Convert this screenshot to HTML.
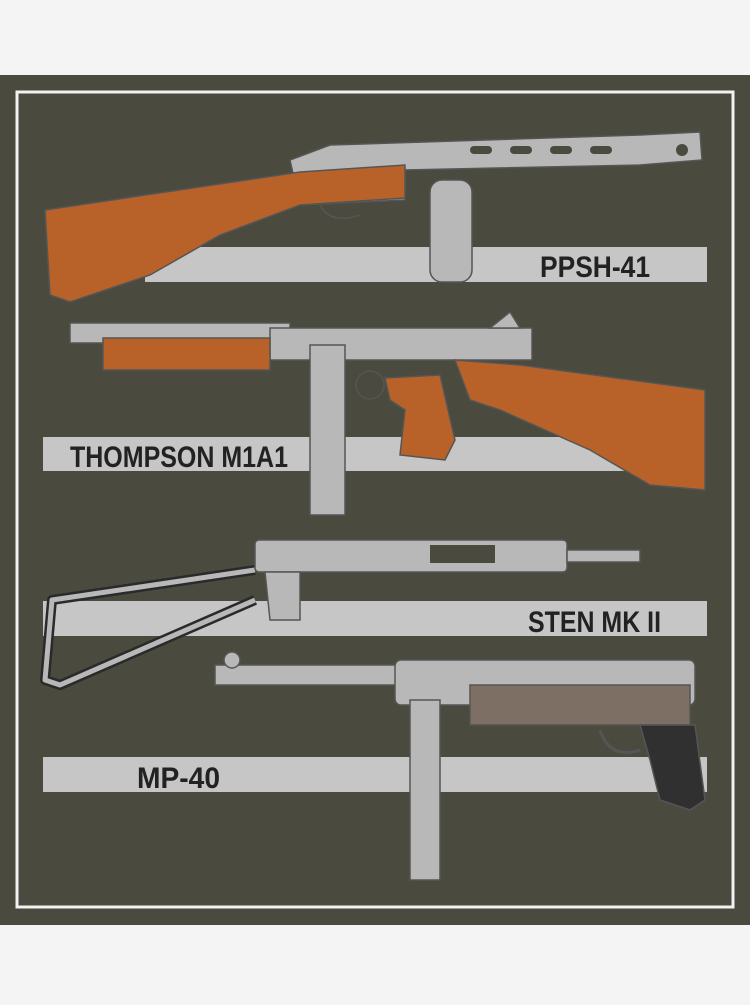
<!DOCTYPE html>
<html><head><meta charset="utf-8"><style>
body{margin:0;width:750px;height:1000px;overflow:hidden;background:#f4f4f4}
</style></head><body>
<svg width="750" height="1000" viewBox="0 0 750 1000" xmlns="http://www.w3.org/2000/svg" font-family="Liberation Sans, sans-serif">
<rect x="0" y="75" width="750" height="850" fill="#4a4b3e"/>
<rect x="17" y="92" width="716" height="815" fill="none" stroke="#f2f2f2" stroke-width="3"/>
<!-- bars -->
<rect x="145" y="247" width="562" height="35" fill="#c6c6c6"/>
<rect x="43" y="437" width="600" height="34" fill="#c6c6c6"/>
<rect x="43" y="601" width="664" height="35" fill="#c6c6c6"/>
<rect x="43" y="757" width="664" height="35" fill="#c6c6c6"/>
<g fill="#222" font-weight="bold" font-size="30" style="font-stretch:condensed">
<text x="540" y="277" textLength="110" lengthAdjust="spacingAndGlyphs">PPSH-41</text>
<text x="70" y="467" textLength="218" lengthAdjust="spacingAndGlyphs">THOMPSON M1A1</text>
<text x="528" y="632" textLength="133" lengthAdjust="spacingAndGlyphs">STEN MK II</text>
<text x="137" y="788" textLength="83" lengthAdjust="spacingAndGlyphs">MP-40</text>
</g>
<g stroke="#555" stroke-width="1.5">
<!-- PPSH -->
<path d="M290 160 L330 145 L640 135 L700 132 L702 160 L640 165 L405 170 L405 200 L300 205 Z" fill="#b8b8b8"/>
<rect x="430" y="180" width="42" height="102" rx="12" fill="#b8b8b8"/>
<path d="M45 210 L300 172 L405 165 L405 198 L300 205 L220 235 L150 275 L70 302 L50 295 Z" fill="#b8622a"/>
<path d="M320 205 Q330 225 360 215" fill="none"/>
<g fill="#4a4b3e" stroke="none"><rect x="470" y="146" width="22" height="8" rx="4"/><rect x="510" y="146" width="22" height="8" rx="4"/><rect x="550" y="146" width="22" height="8" rx="4"/><rect x="590" y="146" width="22" height="8" rx="4"/><circle cx="682" cy="150" r="6"/></g>
<!-- Thompson -->
<rect x="70" y="323" width="220" height="20" fill="#b8b8b8"/>
<rect x="270" y="328" width="262" height="32" fill="#b8b8b8"/>
<path d="M490 328 L510 312 L520 328 Z" fill="#b8b8b8"/>
<rect x="310" y="345" width="35" height="170" fill="#b8b8b8"/>
<rect x="103" y="338" width="167" height="32" fill="#b8622a"/>
<path d="M385 378 L440 375 L455 440 L445 460 L400 455 L405 410 L390 400 Z" fill="#b8622a"/>
<path d="M455 360 L520 365 L705 390 L705 490 L650 485 L590 450 L500 410 L470 400 Z" fill="#b8622a"/>
<circle cx="370" cy="385" r="14" fill="none"/>
<!-- Sten -->
<path d="M255 570 L52 600 L45 680 L60 685 L255 600" fill="none" stroke="#2a2a2a" stroke-width="10" stroke-linejoin="round"/>
<path d="M255 570 L52 600 L45 680 L60 685 L255 600" fill="none" stroke="#b8b8b8" stroke-width="5" stroke-linejoin="round"/>
<rect x="255" y="540" width="312" height="32" rx="4" fill="#b8b8b8"/>
<rect x="567" y="550" width="73" height="12" fill="#b8b8b8"/>
<path d="M265 572 L300 572 L300 620 L270 620 Z" fill="#b8b8b8"/>
<rect x="430" y="545" width="65" height="18" fill="#4a4b3e" stroke="none"/>
<!-- MP40 -->
<rect x="215" y="665" width="250" height="20" fill="#b8b8b8"/>
<rect x="395" y="660" width="300" height="45" rx="6" fill="#b8b8b8"/>
<rect x="470" y="685" width="220" height="40" fill="#7d6f63"/>
<rect x="410" y="700" width="30" height="180" fill="#b8b8b8"/>
<path d="M640 725 L695 725 L705 800 L690 810 L660 800 L650 760 Z" fill="#303030"/>
<path d="M600 730 Q610 760 640 750" fill="none" stroke-width="3"/>
<circle cx="232" cy="660" r="8" fill="#b8b8b8"/>
</g>
</svg>
</body></html>
